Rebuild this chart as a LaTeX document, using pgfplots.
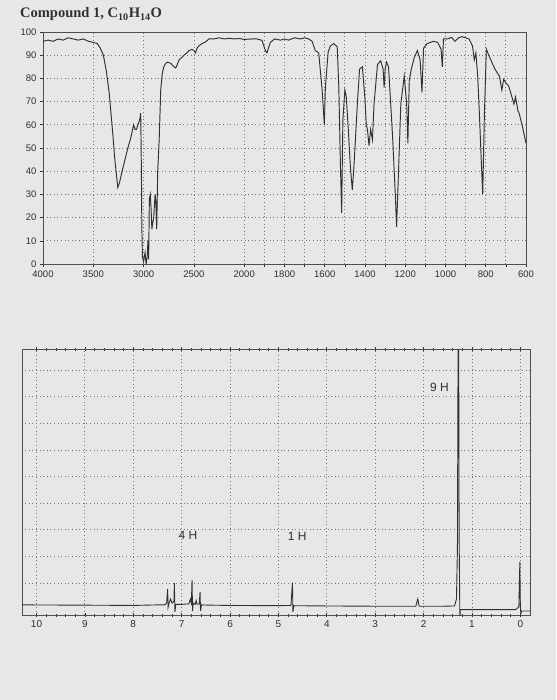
\documentclass[border=0pt]{standalone}
\usepackage{fontspec}
\setmainfont{Liberation Sans}
\newfontfamily\titlefont{Liberation Serif}
\usepackage{pgfplots}
\pgfplotsset{compat=1.18}
\definecolor{paper}{RGB}{231,231,229}
\definecolor{ink}{RGB}{48,48,48}
\definecolor{gridc}{RGB}{115,115,115}

% IR transmittance (wavenumber, %T)
\pgfplotstableread{
x y
4000 96
3950 96.5
3900 96
3850 97
3800 96.5
3750 97.5
3700 97
3650 96.5
3600 97
3550 96
3500 95.5
3460 95
3430 93
3400 90
3370 83
3343 74
3314 60
3286 45
3257 33
3240 35
3214 40
3185 45
3157 50
3130 54
3114 57
3100 60
3085 58
3071 58
3057 60
3040 62
3029 65
3022 40
3018 17
3012 3
3000 1
2986 5
2975 0
2965 3
2957 10
2950 2
2943 28
2934 30
2926 24
2918 15
2912 17
2900 20
2886 30
2880 28
2870 15
2860 40
2845 54
2830 75
2815 82
2800 85
2780 86.5
2763 87
2730 86.5
2700 85
2681 84.5
2665 86
2648 88
2620 89
2599 90
2570 91
2549 92
2520 92.5
2500 92
2484 91
2470 93
2451 94
2420 95
2385 95.7
2352 97
2300 97
2250 97.5
2200 97
2150 97.3
2100 97
2050 97.2
2000 96.8
1960 97
1937 97
1912 96.4
1895 92
1887 91
1880 93
1870 95.5
1850 97
1820 96.5
1800 97
1780 96.5
1750 97.5
1720 97
1700 97.5
1680 97
1663 96
1647 92
1630 91
1613 75
1602 60
1597 76
1583 91.4
1572 94
1555 95
1538 93.6
1530 76
1522 42
1516 22
1510 62
1500 75
1493 72
1483 58
1472 41
1463 32
1455 42
1438 69
1427 84
1413 85
1400 71
1394 60
1388 58
1380 51
1372 58
1363 53.6
1355 69
1338 86
1322 87.6
1310 84
1305 76
1300 84
1293 87
1283 85
1263 55
1250 31
1243 16
1233 41
1222 69
1205 81
1193 69
1187 52
1180 79
1170 84
1155 89
1140 92
1126 88
1117 74
1109 93
1091 95
1060 96
1039 95.5
1022 92.6
1016 85
1010 97
990 97
970 97.7
953 96
935 97.5
918 98
900 97.5
883 97
866 94
857 88
849 91
840 81
831 63.6
823 46
815 30
807 63.6
797 92.6
790 91
780 89
765 86
754 84
740 82
732 81
720 75
711 79.6
700 78
686 76.7
670 72
660 69
652 72
640 66
634 65
617 59
600 52
}\irdata

% 1H NMR (ppm, intensity)
\pgfplotstableread{
x y
10.3 3.8
9 3.7
8 3.6
7.5 3.8
7.35 3.8
7.31 4.5
7.29 9.8
7.28 3
7.26 4.5
7.23 6
7.2 4.5
7.16 5
7.15 12
7.14 1.2
7.12 4
7.0 4
6.85 4.2
6.82 6
6.80 4.5
6.785 13
6.775 1.5
6.76 4.5
6.72 4
6.70 5.5
6.68 4
6.635 4.2
6.62 8.7
6.61 1.5
6.59 3.8
6.4 3.7
6 3.6
5 3.5
4.74 3.6
4.71 12.2
4.70 1.2
4.68 3.5
4 3.4
3 3.3
2.16 3.3
2.12 6
2.09 3.3
1.6 3.3
1.36 3.4
1.32 6
1.30 25
1.285 110
1.275 110
1.265 30
1.255 10
1.25 -1
1.24 2
1.2 2
0.5 2
0.1 2
0.03 3
0.01 20
0.0 4
-0.01 0.5
-0.03 1.5
-0.2 1.5
}\nmrdata

\begin{document}
\begin{tikzpicture}
\fill[paper] (0pt,0pt) rectangle (556pt,-700pt);
\path[use as bounding box] (0pt,0pt) rectangle (556pt,-700pt);
\node[anchor=base west, inner sep=0pt, text=ink] at (20pt,-18pt)
  {\titlefont\bfseries\fontsize{14.5}{16}\selectfont Compound 1, C\textsubscript{10}H\textsubscript{14}O};

\begin{axis}[
    at={(43pt,-264pt)}, anchor=south west,
    scale only axis, width=483pt, height=232pt,
    xmin=4000, xmax=600, ymin=0, ymax=100,
    x coord trafo/.code={\pgfmathparse{#1>=2000 ? 4000-#1 : 6000-2*#1}},
    x coord inv trafo/.code={\pgfmathparse{#1<=2000 ? 4000-#1 : (6000-#1)/2}},
    xtick={4000,3500,3000,2500,2000,1800,1600,1400,1200,1000,800,600},
    xticklabels={4000,3500,3000,2500,2000,1800,1600,1400,1200,1000,800,600},
    minor xtick={1900,1700,1500,1300,1100,900,700},
    ytick={0,10,...,100},
    xmajorgrids, xminorgrids, ymajorgrids,
    grid style={gridc, line width=0.8pt, dash pattern=on 0.8pt off 2.8pt},
    axis line style={ink!85, line width=0.8pt},
    tick style={ink, line width=0.6pt},
    tick align=outside, xtick pos=bottom, ytick pos=left,
    major tick length=3pt, minor tick length=3pt,
    tick label style={font=\fontsize{9.5}{10}\selectfont, text=ink},
    /pgf/number format/assume math mode=true,
]
\addplot[ink, line width=0.95pt] table[x=x, y=y] {\irdata};
\end{axis}

\begin{axis}[
    at={(22pt,-615pt)}, anchor=south west,
    scale only axis, width=508pt, height=266pt,
    xmin=-0.2, xmax=10.3, x dir=reverse, ymin=0, ymax=100,
    xtick={0,1,...,10}, minor x tick num=4,
    ytick={12,22,...,92}, yticklabels={}, ytick style={draw=none},
    xmajorgrids, ymajorgrids,
    grid style={gridc, line width=0.8pt, dash pattern=on 0.8pt off 2.8pt},
    axis line style={ink!85, line width=0.8pt},
    tick style={ink, line width=0.6pt},
    tick align=center, xtick pos=both,
    major tick length=4pt, minor tick length=3pt,
    tick label style={font=\fontsize{10}{11}\selectfont, text=ink},
    /pgf/number format/assume math mode=true,
]
\addplot[ink, line width=0.9pt] table[x=x, y=y] {\nmrdata};
\node[text=ink, font=\fontsize{12}{13}\selectfont] at (axis cs:6.87,30) {4 H};
\node[text=ink, font=\fontsize{12}{13}\selectfont] at (axis cs:4.61,29.5) {1 H};
\node[text=ink, font=\fontsize{12}{13}\selectfont] at (axis cs:1.67,85.5) {9 H};
\end{axis}
\end{tikzpicture}
\end{document}
